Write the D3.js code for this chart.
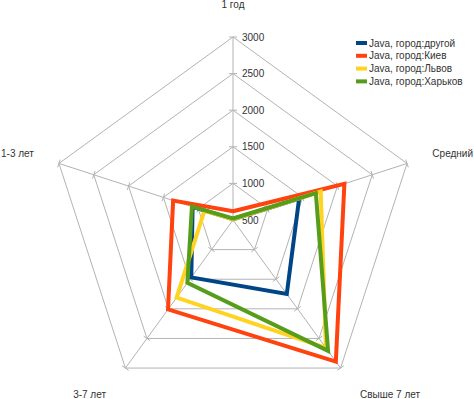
<!DOCTYPE html>
<html>
<head>
<meta charset="utf-8">
<script src="https://cdn.jsdelivr.net/npm/d3@7"></script>
<style>
  body { margin: 0; background: #fff; }
  text { font-family: "Liberation Sans", Arial, sans-serif; fill: #333; }
</style>
</head>
<body>
<div id="chart"></div>
<script>
// axes (clockwise from top)
const axes = ["1 год", "Средний", "Свыше 7 лет", "3-7 лет", "1-3 лет"];
const seriesNames = ["Java, город:другой", "Java, город:Киев", "Java, город:Львов", "Java, город:Харьков"];
const drugoy  = [510, 1450, 1750, 1470, 1080];
const kiev    = [620, 2100, 2890, 2010, 1360];
const lvov    = [510, 1760, 2660, 1810, 910];
const kharkov = [520, 1690, 2710, 1560, 1090];
const ticks = [500, 1000, 1500, 2000, 2500, 3000];
const colors = ["#004586", "#ff420e", "#ffd320", "#579d1c"];

const width = 474, height = 399;
const cx = 233, cy = 220, radius = 183;

const svg = d3.select("#chart").append("svg")
  .attr("width", width)
  .attr("height", height);

const r = d3.scaleLinear().domain([500, 3000]).range([0, radius]);
const angle = d3.scalePoint().domain(d3.range(axes.length)).range([0, 2 * Math.PI * (axes.length - 1) / axes.length]);

// point helper
const pt = (i, rr) => [cx + rr * Math.sin(angle(i)), cy - rr * Math.cos(angle(i))];

const g = svg.append("g");

//Grid rings
ticks.slice(1).forEach(t => {
  g.append("polygon")
    .attr("points", axes.map((a, i) => pt(i, r(t)).join(",")).join(" "))
    .attr("fill", "none")
    .attr("stroke", "#b3b3b3")
    .attr("stroke-width", 1);
});

//Spokes + tick marks
axes.forEach((a, i) => {
  const [x2, y2] = pt(i, radius);
  g.append("line")
    .attr("x1", cx).attr("y1", cy)
    .attr("x2", x2).attr("y2", y2)
    .attr("stroke", "#b3b3b3");
  const th = angle(i);
  ticks.slice(1).forEach(t => {
    const [x, y] = pt(i, r(t));
    const dx = 4 * Math.cos(th), dy = 4 * Math.sin(th);
    g.append("line")
      .attr("x1", x - dx).attr("y1", y - dy)
      .attr("x2", x + dx).attr("y2", y + dy)
      .attr("stroke", "#b3b3b3");
  });
});

//Value labels on top axis
g.selectAll(".tickLabel")
  .data(ticks)
  .enter()
  .append("text")
    .attr("x", cx + 9)
    .attr("y", d => cy - r(d))
    .attr("dy", "0.35em")
    .attr("font-size", 10)
    .text(d => d);

//Axis labels (kept inside the frame)
axes.forEach((a, i) => {
  const [x, y] = pt(i, 216);
  const s = Math.sin(angle(i));
  const t = svg.append("text")
    .attr("x", x)
    .attr("y", y)
    .attr("dy", "0.35em")
    .attr("font-size", 10)
    .attr("text-anchor", Math.abs(s) < 0.01 ? "middle" : (s > 0 ? "start" : "end"))
    .text(a);
  const b = t.node().getBBox();
  if (b.x < 1) t.attr("x", x + (1 - b.x));
  if (b.x + b.width > width - 1) t.attr("x", x - (b.x + b.width - width + 1));
});

//Series
const data = [drugoy, kiev, lvov, kharkov];
const line = d3.lineRadial()
  .angle((d, i) => angle(i))
  .radius(d => r(d))
  .curve(d3.curveLinearClosed);

svg.append("g")
  .attr("transform", `translate(${cx},${cy})`)
  .selectAll("path")
  .data(data)
  .enter()
  .append("path")
    .attr("d", line)
    .attr("fill", "none")
    .attr("stroke", (d, i) => colors[i])
    .attr("stroke-width", 4)
    .attr("stroke-linejoin", "miter");

//Legend
const legend = svg.append("g").attr("transform", "translate(356, 43)");
seriesNames.forEach((name, i) => {
  const row = legend.append("g").attr("transform", `translate(0, ${i * 12.8})`);
  row.append("rect")
    .attr("x", 0).attr("y", -2)
    .attr("width", 11).attr("height", 4)
    .attr("fill", colors[i]);
  row.append("text")
    .attr("x", 13)
    .attr("y", 0)
    .attr("dy", "0.35em")
    .attr("font-size", 10)
    .text(name);
});
</script>
</body>
</html>
